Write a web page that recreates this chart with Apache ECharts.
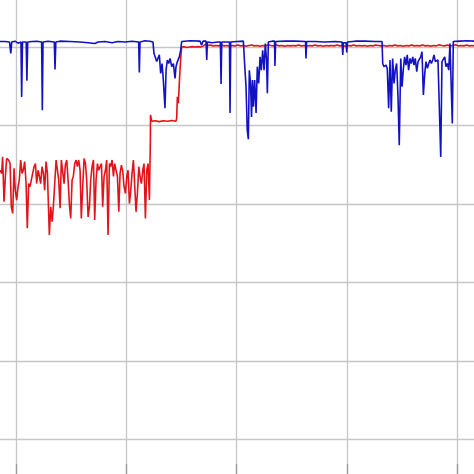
<!DOCTYPE html>
<html>
<head>
<meta charset="utf-8">
<script src="https://cdn.jsdelivr.net/npm/echarts@6/dist/echarts.min.js"></script>
<style>html,body{margin:0;padding:0;background:#fff;}#c{width:474px;height:474px;}</style>
</head>
<body>
<div id="c"></div>
<script>
// x: sample index, y: value (gridlines every 80 on x, every 20 on y)
const xTicks = [0, 80, 160, 240, 320, 400, 480];
const yTicks = [-20, 0, 20, 40, 60, 80, 100, 120];

const redLow = [
[68.4,68.6],[69.6,67.8],[70.3,72.0],[71.3,60.6],[72.3,67.0],[73.2,71.6],[74.7,71.2],[75.7,70.3],[76.6,59.3],[77.6,57.6],
[78.6,69.1],[79.5,63.5],[80.5,61.0],[81.5,64.4],[82.4,66.1],[83.4,71.2],[84.4,67.8],[85.3,68.6],[86.3,70.8],[87.3,65.2],
[88.2,53.8],[89.2,65.2],[90.2,64.4],[91.1,66.1],[92.1,67.8],[93.1,69.5],[94.1,70.3],[95.0,65.2],[96.0,68.6],[97.0,67.0],
[97.9,65.2],[98.9,69.5],[99.9,67.8],[100.8,63.5],[101.8,70.8],[102.8,67.8],[104.2,52.1],[105.2,59.3],[106.2,55.5],[107.1,59.3],
[108.1,65.2],[109.1,71.2],[110.0,71.6],[111.0,66.1],[112.0,58.9],[112.9,71.2],[113.9,70.8],[114.9,65.2],[115.8,69.9],[116.8,71.2],
[117.8,66.1],[118.7,60.1],[119.7,56.3],[120.7,66.1],[121.6,67.0],[122.6,70.3],[123.6,71.2],[124.5,69.5],[125.5,71.2],[126.5,68.6],
[127.4,56.3],[128.4,64.4],[129.4,71.6],[130.4,70.3],[131.3,66.1],[132.3,56.7],[133.3,59.3],[134.2,66.1],[135.2,69.5],[136.2,71.2],
[137.1,55.9],[138.1,66.1],[139.1,70.3],[140.0,68.6],[141.0,69.5],[142.0,70.3],[142.9,59.3],[143.9,67.0],[144.9,68.6],[145.8,71.2],
[146.8,52.1],[147.8,70.3],[148.7,69.5],[149.7,71.2],[150.7,67.0],[151.6,70.3],[152.6,68.6],[153.6,67.0],[154.6,58.0],[155.5,67.8],
[156.5,69.9],[157.5,68.2],[158.4,64.4],[159.4,62.7],[160.4,67.0],[161.3,68.6],[162.3,60.1],[163.3,63.5],[164.2,67.8],[165.2,71.2],
[166.2,71.6],[167.1,58.0],[168.1,62.7],[169.1,69.5],[170.0,67.0],[171.0,65.2],[172.0,68.6],[172.9,70.3],[173.9,56.3],[174.9,68.6],
[175.8,70.3],[176.8,61.0],[177.5,76.3]
];
const redStep = [
[177.6,82.7],[178.0,81.9],[178.6,81.1],[181,81.2],[184,81.0],[187,81.2],[190,81.1],[193,81.3],[196.1,81.1],
[196.6,81.9],[197.1,87.3],[197.8,85.7],[198.5,90.8],[199.0,94.1],[199.7,98.0]
];
const redHigh = [
[200.2,100.0],[202,100.1],[204,99.9],[206,100.0],[208,100.1],[210,100.0],[212,100.1],[214,100.0],[216,100.3],[217.5,100.7],
[219,100.4],[221,100.5],[223,100.3],[225,100.4],[227,100.3],[229,100.5],[231,100.3],[233,100.4],[235,100.2],[237,100.4],
[239,100.3],[241,100.5],[243,100.3],[245,100.4],[247,100.2],[249,100.4],[251,100.5],[253,100.3],[255,100.4],[257,100.2],
[259,100.4],[261,100.3],[263,100.6],[265,100.4],[267,100.3],[269,100.5],[271,100.3],[273,100.4],[275,100.2],[277,100.4],
[279,100.3],[281,100.4],[283,100.3],[285,100.5],[287,100.3],[289,100.4],[291,100.2],[293,100.4],[295,100.3],[297,100.5],
[299,100.3],[301,100.4],[303,100.2],[305,100.4],[307,100.3],[309,100.4],[311,100.3],[313,100.5],[315,100.3],[317,100.4],
[319,100.2],[321,100.4],[323,100.3],[325,100.5],[327,100.3],[329,100.4],[331,100.3],[333,100.4],[335,100.2],[337,100.4],
[339,100.3],[341,100.5],[343,100.4],[345,100.3],[347,100.4],[349,100.2],[351,100.4],[353,100.3],[355,100.5],[357,100.3],
[359,100.4],[361,100.2],[363,100.4],[365,100.3],[367,100.5],[369,100.3],[371,100.4],[373,100.3],[375,100.5],[377,100.3],
[379,100.4],[381,100.2],[383,100.4],[385,100.3],[387,100.6],[389,100.4],[391,100.3],[393,100.5],[395,100.3],[397,100.4],
[399,100.6],[401,100.3],[403,100.4],[405,100.3],[407,100.5],[409,100.3],[411,100.4],[413,100.3]
];

const blueA = [
[68.4,101.4],[72.0,101.4],[75.3,101.3],[76.2,98.4],[76.9,101.3],[79.3,101.5],[81.5,101.0],[82.2,101.4],[83.6,101.3],[84.1,87.3],
[84.7,101.3],[85.8,101.5],[87.4,101.3],[87.9,91.4],[88.5,101.3],[91.6,101.4],[95.2,101.5],[98.6,101.3],[99.1,83.9],[99.6,101.3],
[103.2,101.5],[107.8,101.3],[108.3,94.3],[108.9,101.3],[111.9,101.5],[119.2,101.4],[126.4,101.3],[132.3,101.1],[137.3,100.9],[139.5,101.3],
[144.6,101.4],[149.7,101.1],[154.0,101.4],[159.1,101.3],[164.2,101.5],[169.0,101.3],[169.5,93.5],[170.0,101.3],[173.6,101.6],[177.2,101.5],
[179.4,101.3]
];
const blueB = [
[180.1,98.4],[180.9,98.4],[182.1,96.3],[183.3,95.8],[184.0,98.0],[185.0,93.3],[186.0,95.8],[186.9,91.6],[188.1,84.4],[188.9,94.1],
[189.8,96.7],[190.8,95.8],[191.8,97.1],[193.0,95.0],[194.2,95.8],[195.4,92.0],[196.1,95.0],[197.1,96.3],[198.5,97.5],[199.5,99.2],
[200.2,101.4]
];
const blueC = [
[206.3,101.6],[213.5,101.5],[214.7,100.5],[215.7,101.5],[217.9,101.5],[218.4,96.7],[218.9,101.3],[222.2,101.1],[226.6,101.3],[228.3,101.3],
[228.8,90.6],[229.3,101.3],[232.4,101.3],[234.9,101.3],[235.3,83.2],[235.8,101.3],[240.4,101.4],[245.0,101.5]
];
const blueD = [
[245.8,96.3],[246.9,89.9],[247.8,78.8],[248.6,76.5],[249.3,94.1],[250.2,90.7],[250.9,82.2],[251.6,91.6],[252.3,84.8],[253.2,91.6],
[254.2,83.2],[255.1,95.0],[256.1,90.7],[257.1,97.5],[258.0,94.1],[259.0,99.2],[260.0,94.1],[260.9,100.9],[261.8,96.7],[262.4,88.2],
[263.1,101.3]
];
const blueE = [
[265.8,101.5],[267.6,101.5],[267.9,95.2],[268.4,101.4],[275.2,101.5],[282.5,101.5],[290.1,101.4],[290.4,97.1],[290.9,101.4],[297.0,101.4],
[304.2,101.3],[311.5,101.4],[316.6,101.3],[317.1,98.0],[317.6,101.1],[319.5,101.1],[320.0,98.6],[320.5,101.3],[326.0,101.5],[333.2,101.5],
[340.5,101.4],[345.6,101.4]
];
const blueF = [
[346.1,95.8],[347.0,95.0],[348.5,95.4],[349.4,94.6],[350.4,84.4],[351.4,96.7],[352.3,83.5],[353.3,97.1],[354.3,90.7],[355.2,94.1],
[356.2,95.8],[357.2,87.3],[358.1,75.0],[359.2,97.1],[360.1,89.9],[361.0,94.1],[362.0,97.5],[363.0,95.4],[363.9,98.0],[364.9,94.1],
[365.9,97.1],[366.8,95.8],[367.9,97.5],[368.8,95.4],[369.7,97.1],[370.8,93.7],[371.7,96.3],[372.6,95.8],[373.7,97.5],[374.6,98.8],
[375.6,87.8],[376.6,93.3],[377.5,96.3],[378.5,94.6],[379.5,95.8],[380.4,96.7],[381.4,95.8],[382.4,96.7],[383.3,98.0],[384.3,96.3],
[385.3,95.8],[386.2,96.7],[387.2,97.1],[388.2,72.0],[389.1,96.3],[390.1,95.8],[391.1,97.5],[392.0,95.0],[393.0,95.8],[394.0,94.1],
[394.9,100.9],[395.9,101.4],[396.6,80.5],[397.3,101.4]
];
const blueG = [
[402.2,101.5],[407.3,101.6],[412.3,101.5],[414,101.5]
];

const red = redLow.concat(redStep, redHigh);
const blue = blueA.concat(blueB, blueC, blueD, blueE, blueF, blueG);

const chart = echarts.init(document.getElementById('c'), null, {renderer: 'canvas'});
const gridColor = '#c6c6c6';
chart.setOption({
  animation: false,
  backgroundColor: '#ffffff',
  grid: [
    {left: -94.25, width: 661.5, top: -31.4, height: 549.2, containLabel: false, outerBoundsMode: 'none'},
    {left: -94.25, width: 661.5, top: 0, height: 475, containLabel: false, outerBoundsMode: 'none'}
  ],
  xAxis: [
    {type: 'value', gridIndex: 0, min: xTicks[0], max: xTicks[xTicks.length - 1], interval: 80,
     axisLine: {show: false}, axisTick: {show: false}, axisLabel: {show: false},
     splitLine: {show: true, lineStyle: {color: gridColor, width: 1.3}}},
    {type: 'value', gridIndex: 1, min: xTicks[0], max: xTicks[xTicks.length - 1], interval: 80,
     axisLine: {show: false}, axisLabel: {show: false}, splitLine: {show: false},
     axisTick: {show: true, inside: true, length: 11, lineStyle: {color: '#9a9a9a', width: 1.3}}}
  ],
  yAxis: [
    {type: 'value', gridIndex: 0, min: yTicks[0], max: yTicks[yTicks.length - 1], interval: 20,
     axisLine: {show: false}, axisTick: {show: false}, axisLabel: {show: false},
     splitLine: {show: true, lineStyle: {color: gridColor, width: 1.3}}},
    {type: 'value', gridIndex: 1, show: false, min: 0, max: 1, splitLine: {show: false}}
  ],
  series: [
    {type: 'line', xAxisIndex: 0, yAxisIndex: 0, data: red, showSymbol: false, symbol: 'none',
     lineStyle: {color: '#e4121a', width: 1.6}, z: 2},
    {type: 'line', xAxisIndex: 0, yAxisIndex: 0, data: blue, showSymbol: false, symbol: 'none',
     lineStyle: {color: '#1212c4', width: 1.6}, z: 3}
  ]
});
</script>
</body>
</html>
